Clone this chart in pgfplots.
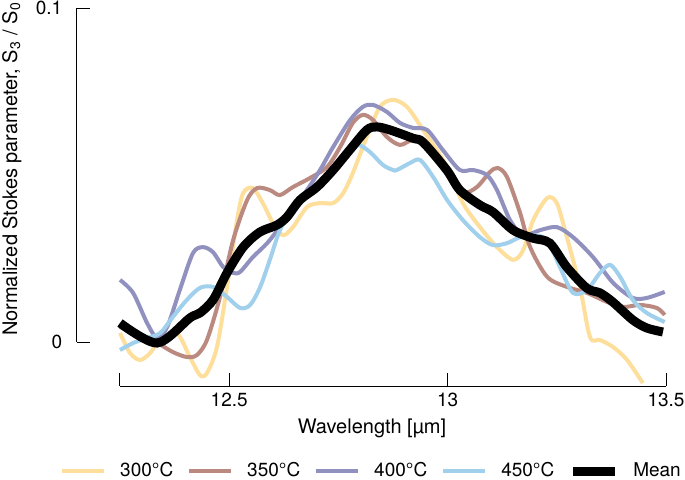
\documentclass[border=0pt]{standalone}
\usepackage{fontspec}
\setmainfont{TeX Gyre Heros}
\usepackage{pgfplots}
\pgfplotsset{compat=1.18}
\definecolor{cA}{RGB}{253,222,154}
\definecolor{cB}{RGB}{186,138,128}
\definecolor{cC}{RGB}{144,145,191}
\definecolor{cD}{RGB}{160,208,236}
\begin{document}
\fontsize{9.5}{11.4}\selectfont
\begin{tikzpicture}
\begin{axis}[
  scale only axis, width=273pt, height=167pt,
  xmin=12.25, xmax=13.5, ymin=0, ymax=0.1,
  clip=false,
  axis lines=left,
  axis x line shift=22pt,
  axis y line shift=21.5pt,
  axis line style={-, black, line width=0.5pt},
  tick style={black, line width=0.5pt},
  tick align=inside,
  major tick length=6.5pt,
  xtick={12.25,12.5,13,13.5},
  xticklabels={,12.5,13,13.5},
  ytick={0,0.1},
  yticklabels={0,0.1},
  yticklabel style={xshift=-4pt},
  xlabel={Wavelength [µm]},
  ylabel={Normalized Stokes parameter, S\textsubscript{3} / S\textsubscript{0}},
  every axis x label/.style={at={(axis description cs:0.4615,-0.2754)}, anchor=base, font=\fontsize{10}{12}\selectfont},
  every axis y label/.style={at={(axis description cs:-0.1886,0.518)}, rotate=90, anchor=base, font=\fontsize{10}{12}\selectfont},
  legend style={at={(axis description cs:0.4588,-0.387)}, anchor=center, draw=none, fill=none,
    legend columns=5,
    nodes={inner sep=0pt},
    /tikz/every even column/.append style={column sep=7pt},
    /tikz/every odd column/.append style={column sep=7pt}},
  legend image code/.code={\draw[#1] (0pt,0pt) -- (21pt,0pt);},
  every axis plot/.append style={smooth, tension=0.5, no marks},
]
\coordinate (sw) at (rel axis cs:0,0);
% 300 C
\addplot[cA, line width=2pt] coordinates {
(12.250,0.0027) (12.273,-0.0033) (12.296,-0.0054) (12.319,-0.0033) (12.342,0.0006)
(12.380,0.0027) (12.410,-0.0045) (12.433,-0.0099) (12.449,-0.0093) (12.472,-0.0015)
(12.495,0.0165) (12.518,0.0365) (12.532,0.0446) (12.554,0.0461) (12.577,0.0416)
(12.600,0.0356) (12.623,0.0320) (12.646,0.0344) (12.678,0.0404) (12.708,0.0416)
(12.738,0.0416) (12.761,0.0446) (12.783,0.0506) (12.815,0.0614) (12.845,0.0704)
(12.875,0.0725) (12.907,0.0704) (12.944,0.0635) (12.999,0.0524) (13.035,0.0416)
(13.074,0.0344) (13.113,0.0284) (13.150,0.0246) (13.173,0.0275) (13.196,0.0365)
(13.228,0.0431) (13.250,0.0416) (13.273,0.0314) (13.303,0.0165) (13.326,0.0015)
(13.349,0.0006) (13.379,-0.0015) (13.411,-0.0054) (13.447,-0.0123)
};
% 350 C
\addplot[cB, line width=2pt] coordinates {
(12.250,0.0045) (12.296,0.0015) (12.335,-0.0003) (12.371,-0.0030) (12.403,-0.0045)
(12.426,-0.0039) (12.449,0.0006) (12.479,0.0135) (12.509,0.0305) (12.541,0.0425)
(12.564,0.0461) (12.593,0.0455) (12.616,0.0440) (12.646,0.0464) (12.685,0.0491)
(12.724,0.0524) (12.754,0.0584) (12.783,0.0656) (12.806,0.0680) (12.829,0.0665)
(12.861,0.0614) (12.891,0.0590) (12.921,0.0605) (12.953,0.0584) (12.999,0.0515)
(13.035,0.0449) (13.067,0.0464) (13.097,0.0509) (13.115,0.0521) (13.136,0.0494)
(13.166,0.0386) (13.189,0.0284) (13.228,0.0195) (13.273,0.0165) (13.319,0.0147)
(13.365,0.0120) (13.402,0.0105) (13.440,0.0111) (13.479,0.0102) (13.497,0.0081)
};
% 400 C
\addplot[cC, line width=2pt] coordinates {
(12.250,0.0186) (12.280,0.0147) (12.312,0.0057) (12.335,0.0012) (12.358,0.0045)
(12.387,0.0156) (12.417,0.0266) (12.440,0.0284) (12.463,0.0269) (12.486,0.0225)
(12.509,0.0207) (12.525,0.0210) (12.554,0.0254) (12.587,0.0296) (12.616,0.0344)
(12.646,0.0395) (12.678,0.0455) (12.708,0.0515) (12.738,0.0584) (12.777,0.0665)
(12.806,0.0704) (12.829,0.0710) (12.861,0.0689) (12.891,0.0656) (12.921,0.0641)
(12.953,0.0635) (12.989,0.0575) (13.028,0.0515) (13.058,0.0515) (13.090,0.0500)
(13.113,0.0455) (13.143,0.0365) (13.173,0.0320) (13.212,0.0335) (13.250,0.0344)
(13.287,0.0314) (13.333,0.0254) (13.379,0.0177) (13.424,0.0132) (13.456,0.0132)
(13.497,0.0150)
};
% 450 C
\addplot[cD, line width=2pt] coordinates {
(12.250,-0.0024) (12.280,-0.0003) (12.312,0.0012) (12.342,0.0027) (12.371,0.0075)
(12.403,0.0126) (12.433,0.0162) (12.463,0.0165) (12.495,0.0135) (12.525,0.0102)
(12.548,0.0111) (12.571,0.0165) (12.593,0.0246) (12.616,0.0335) (12.639,0.0386)
(12.669,0.0425) (12.701,0.0464) (12.731,0.0506) (12.761,0.0554) (12.793,0.0590)
(12.822,0.0569) (12.852,0.0530) (12.875,0.0515) (12.884,0.0515) (12.914,0.0536)
(12.937,0.0545) (12.967,0.0494) (12.999,0.0425) (13.035,0.0365) (13.074,0.0314)
(13.104,0.0290) (13.136,0.0296) (13.166,0.0314) (13.196,0.0320) (13.228,0.0305)
(13.257,0.0225) (13.287,0.0147) (13.319,0.0156) (13.349,0.0207) (13.372,0.0231)
(13.395,0.0195) (13.424,0.0126) (13.456,0.0087) (13.497,0.0060)
};
% Mean
\addplot[black, line width=4.5pt] coordinates {
(12.250,0.0057) (12.335,-0.0003) (12.410,0.0072) (12.433,0.0087) (12.463,0.0126)
(12.495,0.0207) (12.532,0.0284) (12.570,0.0329) (12.609,0.0350) (12.632,0.0374)
(12.662,0.0425) (12.701,0.0464) (12.738,0.0515) (12.776,0.0575) (12.815,0.0635)
(12.838,0.0644) (12.868,0.0635) (12.921,0.0610) (12.944,0.0598) (12.998,0.0515)
(13.028,0.0455) (13.074,0.0410) (13.104,0.0389) (13.150,0.0335) (13.195,0.0311)
(13.234,0.0296) (13.273,0.0224) (13.319,0.0161) (13.349,0.0147) (13.378,0.0120)
(13.424,0.0066) (13.456,0.0042) (13.493,0.0030)
};
\legend{300°C,350°C,400°C,450°C,Mean}
\end{axis}
\pgfresetboundingbox
\useasboundingbox ([shift={(-60pt,-68.5pt)}]sw) rectangle ([shift={(282.5pt,171pt)}]sw);
\end{tikzpicture}
\end{document}
